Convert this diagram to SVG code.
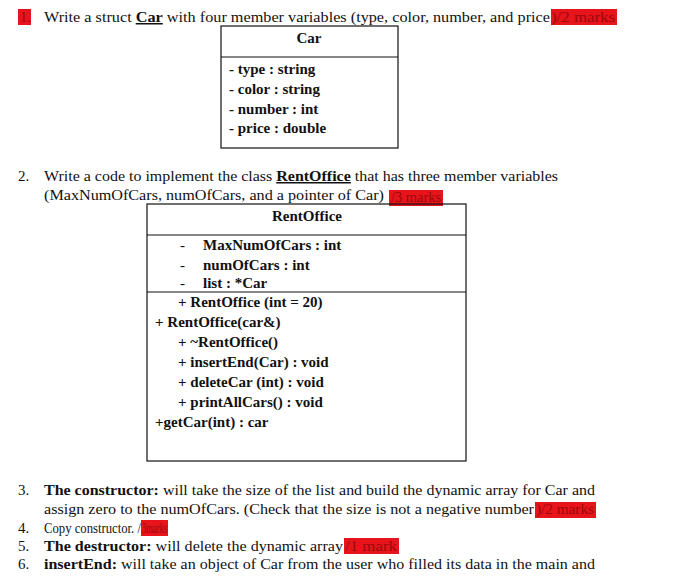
<svg xmlns="http://www.w3.org/2000/svg" width="677" height="578" viewBox="0 0 677 578">
<style>
text{font-family:"Liberation Serif","Times New Roman","DejaVu Serif",serif;font-size:15px;fill:#111}
.b{font-weight:bold}
.r{fill:#e8141c}
.m{fill:#9a0a0a;font-size:14px}
.box{fill:none;stroke:#111;stroke-width:1.2}
</style>
<rect width="677" height="578" fill="#fff"/>
<rect class="r" x="18" y="9" width="13" height="16"/>
<text x="20" y="22" class="m">1.</text>
<text x="44" y="22" textLength="506" lengthAdjust="spacingAndGlyphs">Write a struct <tspan class="b" text-decoration="underline">Car</tspan> with four member variables (type, color, number, and price</text>
<rect class="r" x="551" y="9" width="66" height="16"/>
<text x="551" y="22" class="m" textLength="64" lengthAdjust="spacingAndGlyphs">)/2 marks</text>
<g id="car">
<rect class="box" x="221" y="26" width="177" height="122"/>
<line class="box" x1="221" y1="57" x2="398" y2="57"/>
<text x="309" y="43" class="b" text-anchor="middle">Car</text>
<text x="229" y="74" class="b">- type : string</text>
<text x="229" y="94" class="b">- color : string</text>
<text x="229" y="114" class="b">- number : int</text>
<text x="229" y="133" class="b">- price : double</text>
</g>
<text x="18" y="181">2.</text>
<text x="44" y="181" textLength="514" lengthAdjust="spacingAndGlyphs">Write a code to implement the class <tspan class="b" text-decoration="underline">RentOffice</tspan> that has three member variables</text>
<text x="44" y="200" textLength="340" lengthAdjust="spacingAndGlyphs">(MaxNumOfCars, numOfCars, and a pointer of Car)</text>
<rect class="r" x="389" y="190" width="54" height="16"/>
<text x="391" y="202" class="m" textLength="50" lengthAdjust="spacingAndGlyphs">/3 marks</text>
<g id="rentoffice">
<rect class="box" x="147" y="204" width="319" height="257"/>
<line class="box" x1="147" y1="235" x2="466" y2="235"/>
<line class="box" x1="147" y1="292" x2="466" y2="292"/>
<text x="307" y="221" class="b" text-anchor="middle">RentOffice</text>
<text x="180" y="250">-</text><text x="203" y="250" class="b">MaxNumOfCars : int</text>
<text x="180" y="270">-</text><text x="203" y="270" class="b">numOfCars : int</text>
<text x="180" y="288">-</text><text x="203" y="288" class="b">list : *Car</text>
<text x="178" y="307" class="b">+ RentOffice (int = 20)</text>
<text x="155" y="327" class="b">+ RentOffice(car&amp;)</text>
<text x="178" y="347" class="b">+ ~RentOffice()</text>
<text x="178" y="367" class="b">+ insertEnd(Car) : void</text>
<text x="178" y="387" class="b">+ deleteCar (int)  : void</text>
<text x="178" y="407" class="b">+ printAllCars()  : void</text>
<text x="155" y="427" class="b">+getCar(int) : car</text>
</g>
<text x="18" y="495">3.</text>
<text x="44" y="495" textLength="551" lengthAdjust="spacingAndGlyphs"><tspan class="b">The constructor:</tspan> will take the size of the list and build the dynamic array for Car and</text>
<text x="44" y="514" textLength="490" lengthAdjust="spacingAndGlyphs">assign zero to the numOfCars. (Check that the size is not a negative number</text>
<rect class="r" x="535" y="502" width="61" height="16"/>
<text x="536" y="514" class="m" textLength="58" lengthAdjust="spacingAndGlyphs">)/2 marks</text>
<text x="18" y="533">4.</text>
<text x="44" y="533" textLength="97" lengthAdjust="spacingAndGlyphs">Copy constructor. /</text>
<rect class="r" x="141" y="520" width="27" height="16"/>
<text x="142" y="533" class="m" textLength="25" lengthAdjust="spacingAndGlyphs">3marks</text>
<text x="18" y="551">5.</text>
<text x="44" y="551" textLength="299" lengthAdjust="spacingAndGlyphs"><tspan class="b">The destructor:</tspan> will delete the dynamic array</text>
<rect class="r" x="344" y="538" width="55" height="16"/>
<text x="345" y="551" class="m" textLength="52" lengthAdjust="spacingAndGlyphs">/1 mark</text>
<text x="18" y="569">6.</text>
<text x="44" y="569" textLength="551" lengthAdjust="spacingAndGlyphs"><tspan class="b">insertEnd:</tspan> will take an object of Car from the user who filled its data in the main and</text>
</svg>
